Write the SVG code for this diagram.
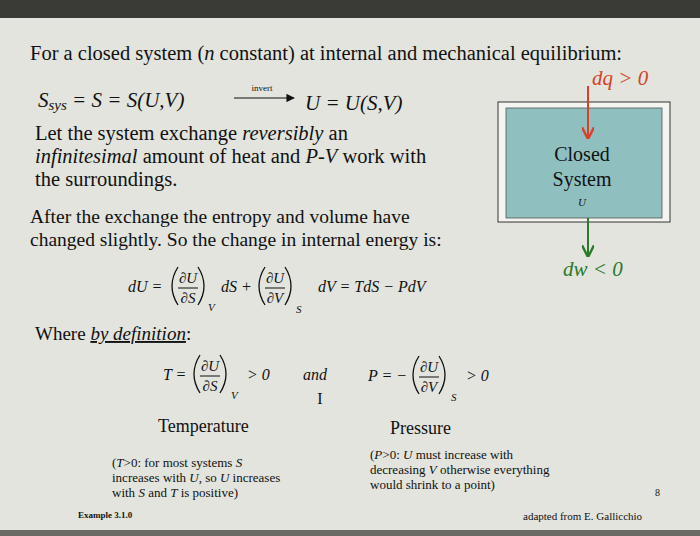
<svg xmlns="http://www.w3.org/2000/svg" width="700" height="536" viewBox="0 0 700 536">
<style>
.t{font-family:"Liberation Serif",serif;fill:#111}
.m{font-family:"Liberation Serif",serif;font-style:italic;fill:#111}
.pr{fill:none;stroke:#111;stroke-width:1.3}
.s{font-size:13px}
</style>
<defs>
<marker id="ah" viewBox="0 0 10 10" refX="9" refY="5" markerWidth="7" markerHeight="7" orient="auto"><path d="M0,0L10,5L0,10z" fill="#111"/></marker>
<marker id="ar" viewBox="0 0 10 10" refX="9" refY="5" markerWidth="6" markerHeight="6" orient="auto"><path d="M0,0L10,5L0,10" fill="none" stroke="#d9402a" stroke-width="2"/></marker>
<marker id="ag" viewBox="0 0 10 10" refX="9" refY="5" markerWidth="6" markerHeight="6" orient="auto"><path d="M0,0L10,5L0,10" fill="none" stroke="#2a7a2a" stroke-width="2"/></marker>
</defs>
<rect width="700" height="536" fill="#e2e4dd"/>
<rect width="700" height="18" fill="#3a3a36"/>
<rect y="530" width="700" height="6" fill="#6a6a64"/>
<text class="t" x="30" y="60" font-size="20.5">For a closed system (<tspan font-style="italic">n</tspan> constant) at internal and mechanical equilibrium:</text>
<text class="m" x="38" y="107" font-size="21">S<tspan font-size="15" dy="3">sys</tspan><tspan dy="-3"> = S = S(U,V)</tspan></text>
<text class="t" x="262" y="91" font-size="9" text-anchor="middle">invert</text>
<text class="m" x="305" y="110" font-size="21">U = U(S,V)</text>
<text class="t" x="35" y="140" font-size="20.5">Let the system exchange <tspan font-style="italic">reversibly</tspan> an</text>
<text class="t" x="35" y="163" font-size="20.5"><tspan font-style="italic">infinitesimal</tspan> amount of heat and <tspan font-style="italic">P-V</tspan> work with</text>
<text class="t" x="35" y="186" font-size="20.5">the surroundings.</text>
<text class="t" x="30" y="223" font-size="19.5">After the exchange the entropy and volume have</text>
<text class="t" x="30" y="246" font-size="19.5">changed slightly. So the change in internal energy is:</text>
<g id="eq1">
<text class="m" x="128" y="292" font-size="16">dU =</text>
<path class="pr" d="M178,267 Q166,286 178,305"/>
<text class="m" x="188" y="283" font-size="15" text-anchor="middle">∂U</text>
<line x1="178" y1="288" x2="198" y2="288" stroke="#111"/>
<text class="m" x="188" y="303" font-size="15" text-anchor="middle">∂S</text>
<path class="pr" d="M198,267 Q210,286 198,305"/>
<text class="m" x="208" y="311" font-size="11">V</text>
<text class="m" x="221" y="292" font-size="16">dS +</text>
<path class="pr" d="M265,267 Q253,286 265,305"/>
<text class="m" x="275" y="283" font-size="15" text-anchor="middle">∂U</text>
<line x1="265" y1="288" x2="285" y2="288" stroke="#111"/>
<text class="m" x="275" y="303" font-size="15" text-anchor="middle">∂V</text>
<path class="pr" d="M285,267 Q297,286 285,305"/>
<text class="m" x="296" y="313" font-size="11">S</text>
<text class="m" x="318" y="292" font-size="16">dV = TdS − PdV</text>
</g>
<text class="t" x="35" y="340" font-size="19">Where <tspan font-style="italic" text-decoration="underline">by definition</tspan>:</text>
<g id="eq2">
<text class="m" x="163" y="380" font-size="16">T =</text>
<path class="pr" d="M200,355 Q188,374 200,393"/>
<text class="m" x="210" y="371" font-size="15" text-anchor="middle">∂U</text>
<line x1="200" y1="376" x2="220" y2="376" stroke="#111"/>
<text class="m" x="210" y="391" font-size="15" text-anchor="middle">∂S</text>
<path class="pr" d="M220,355 Q232,374 220,393"/>
<text class="m" x="231" y="399" font-size="11">V</text>
<text class="m" x="247" y="380" font-size="16">&gt; 0</text>
<text class="m" x="303" y="380" font-size="16">and</text>
<text class="t" x="320" y="404" font-size="16" text-anchor="middle">I</text>
<text class="m" x="368" y="381" font-size="16">P = −</text>
<path class="pr" d="M419,356 Q407,375 419,394"/>
<text class="m" x="429" y="372" font-size="15" text-anchor="middle">∂U</text>
<line x1="419" y1="377" x2="439" y2="377" stroke="#111"/>
<text class="m" x="429" y="392" font-size="15" text-anchor="middle">∂V</text>
<path class="pr" d="M439,356 Q451,375 439,394"/>
<text class="m" x="451" y="401" font-size="11">S</text>
<text class="m" x="466" y="381" font-size="16">&gt; 0</text>
</g>
<text class="t" x="158" y="432" font-size="18">Temperature</text>
<text class="t" x="390" y="434" font-size="18">Pressure</text>
<text class="t s" x="112" y="467">(<tspan font-style="italic">T</tspan>&gt;0: for most systems <tspan font-style="italic">S</tspan></text>
<text class="t s" x="112" y="482">increases with <tspan font-style="italic">U</tspan>, so <tspan font-style="italic">U</tspan> increases</text>
<text class="t s" x="112" y="497">with <tspan font-style="italic">S</tspan> and <tspan font-style="italic">T</tspan> is positive)</text>
<text class="t s" x="370" y="459">(<tspan font-style="italic">P</tspan>&gt;0: <tspan font-style="italic">U</tspan> must increase with</text>
<text class="t s" x="370" y="474">decreasing <tspan font-style="italic">V</tspan> otherwise everything</text>
<text class="t s" x="370" y="489">would shrink to a point)</text>
<text class="t" x="655" y="496" font-size="10">8</text>
<text class="t" x="78" y="518" font-size="9" font-weight="bold">Example 3.1.0</text>
<text class="t" x="523" y="520" font-size="11">adapted from E. Gallicchio</text>
<g id="system">
<rect x="498" y="102" width="172" height="120" fill="#f4f4f0" stroke="#333"/>
<rect x="506" y="108" width="156" height="110" fill="#8fc0bf" stroke="#555" stroke-width="0.8"/>
<text class="t" x="582" y="161" font-size="20" text-anchor="middle">Closed</text>
<text class="t" x="582" y="186" font-size="20" text-anchor="middle">System</text>
<text class="m" x="582" y="206" font-size="11" text-anchor="middle">U</text>
</g>
<text class="m" x="592" y="85" font-size="21" style="fill:#d9402a">dq &gt; 0</text>
<text class="m" x="563" y="276" font-size="21" style="fill:#2a7a2a">dw &lt; 0</text>
<g id="connectors">
<line x1="234" y1="98" x2="294" y2="98" stroke="#111" stroke-width="1.2" marker-end="url(#ah)"/>
<line x1="588" y1="86" x2="588" y2="138" stroke="#d9402a" stroke-width="2" marker-end="url(#ar)"/>
<line x1="588" y1="218" x2="588" y2="256" stroke="#2a7a2a" stroke-width="2" marker-end="url(#ag)"/>
</g>
</svg>
